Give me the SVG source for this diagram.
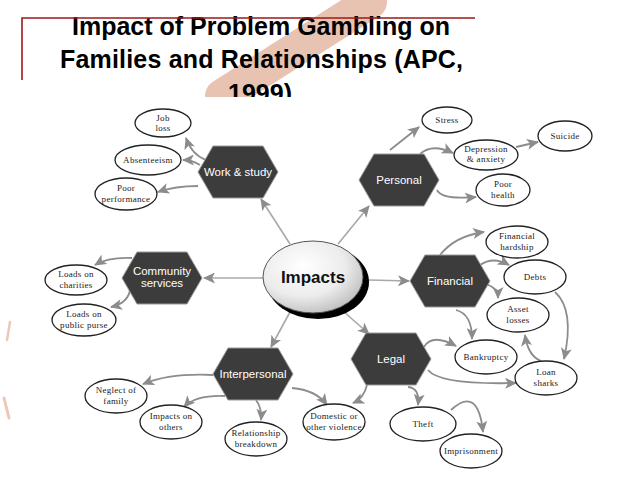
<svg xmlns="http://www.w3.org/2000/svg" width="638" height="478" viewBox="0 0 638 478">
<style>
.title{font-family:"Liberation Sans",Arial,sans-serif;font-weight:bold;font-size:25px;fill:#000;text-anchor:middle}
.hx{fill:#3c3c3c;stroke:#9a9a9a;stroke-width:1}
.ht{font-family:"Liberation Sans",Arial,sans-serif;font-size:11.5px;fill:#fff;text-anchor:middle}
.el{fill:#fff;stroke:#222;stroke-width:1.3}
.et{font-family:"Liberation Serif","Times New Roman",serif;font-size:9px;fill:#222;text-anchor:middle;letter-spacing:0.3px}
.c{fill:none;stroke:#8c8c8c;stroke-width:1.8;marker-end:url(#ah)}
.sp{fill:none;stroke:#a8a8a8;stroke-width:1.6;marker-end:url(#ah)}
</style>
<defs>
<marker id="ah" markerUnits="userSpaceOnUse" markerWidth="13" markerHeight="11" refX="11" refY="5.5" orient="auto">
<path d="M0,0 L12,5.5 L0,11 L3,5.5 Z" fill="#8c8c8c"/>
</marker>
<polygon id="hex" points="-40,0 -25,-26 25,-26 40,0 25,26 -25,26"/>
<radialGradient id="ig" cx="0.4" cy="0.35" r="0.7">
<stop offset="0" stop-color="#ffffff"/>
<stop offset="0.6" stop-color="#ececec"/>
<stop offset="1" stop-color="#bdbdbd"/>
</radialGradient>
</defs>
<rect width="638" height="478" fill="#fff"/>
<g id="background">
<path d="M370,2 L222,96" stroke="#e8c3b2" stroke-width="34" stroke-linecap="round"/>
<path d="M10,322 L7,340" stroke="#ecc8b8" stroke-width="2.5" stroke-linecap="round"/>
<path d="M4,398 L9,418" stroke="#ecc8b8" stroke-width="3" stroke-linecap="round"/>
</g>
<g id="title">
<text class="title" x="261" y="35" textLength="378" lengthAdjust="spacing">Impact of Problem Gambling on</text>
<text class="title" x="261.5" y="68" textLength="403" lengthAdjust="spacing">Families and Relationships (APC,</text>
<text class="title" x="260" y="102">1999)</text>
<path d="M22,80 L22,18 L475,18" fill="none" stroke="#a01818" stroke-width="1.6"/>
</g>
<rect x="40" y="97" width="570" height="381" fill="#fff"/>
<g id="connectors">
<path class="sp" d="M290,244 L261,199"/>
<path class="sp" d="M338,244 L369,206"/>
<path class="sp" d="M263,278 L204,278"/>
<path class="sp" d="M369,280 L409,281"/>
<path class="sp" d="M290,312 L271,347"/>
<path class="sp" d="M343,311 L369,334"/>
<path class="c" d="M206,160 Q192,155 186,138"/>
<path class="c" d="M200,165 Q192,160 183,160"/>
<path class="c" d="M198,186 Q175,186 158,192"/>
<path class="c" d="M390,150 L419,127"/>
<path class="c" d="M420,154 Q432,143 453,153"/>
<path class="c" d="M516,147 L538,142"/>
<path class="c" d="M437,190 Q442,200 476,197"/>
<path class="c" d="M132,258 Q108,257 95,265"/>
<path class="c" d="M130,290 Q128,303 111,307"/>
<path class="c" d="M440,255 Q455,236 484,232"/>
<path class="c" d="M480,265 Q493,256 509,265"/>
<path class="c" d="M486,284 Q498,288 498,298"/>
<path class="c" d="M456,310 Q472,314 472,339"/>
<path class="c" d="M555,292 Q575,310 564,359"/>
<path class="c" d="M541,361 Q528,356 525,335"/>
<path class="c" d="M424,347 Q432,333 456,346"/>
<path class="c" d="M428,370 Q440,385 516,383"/>
<path class="c" d="M367,385 Q364,398 353,403"/>
<path class="c" d="M408,387 Q420,388 418,405"/>
<path class="c" d="M451,410 Q478,385 483,432"/>
<path class="c" d="M213,375 Q170,373 143,384"/>
<path class="c" d="M225,396 Q195,395 184,407"/>
<path class="c" d="M256,400 Q262,408 261,420"/>
<path class="c" d="M292,388 Q316,390 327,405"/>
</g>
<g id="impacts">
<ellipse cx="318" cy="282" rx="51" ry="37" fill="#000"/>
<ellipse cx="313" cy="277" rx="50" ry="36" fill="url(#ig)" stroke="#555" stroke-width="1"/>
<text x="313" y="283" font-family="Liberation Sans,Arial,sans-serif" font-weight="bold" font-size="17" text-anchor="middle" fill="#111">Impacts</text>
</g>
<g id="work-study"><use href="#hex" class="hx" x="238" y="172"/><text class="ht" x="238" y="176">Work &amp; study</text></g>
<g id="personal"><use href="#hex" class="hx" x="399" y="180"/><text class="ht" x="399" y="184">Personal</text></g>
<g id="community"><use href="#hex" class="hx" x="162" y="278"/><text class="ht" x="162" y="275">Community</text><text class="ht" x="162" y="287">services</text></g>
<g id="financial"><use href="#hex" class="hx" x="450" y="281"/><text class="ht" x="450" y="285">Financial</text></g>
<g id="interpersonal"><use href="#hex" class="hx" x="253" y="374"/><text class="ht" x="253" y="378">Interpersonal</text></g>
<g id="legal"><use href="#hex" class="hx" x="391" y="359"/><text class="ht" x="391" y="363">Legal</text></g>
<g id="job-loss"><ellipse class="el" cx="163" cy="123" rx="28" ry="14"/><text class="et" x="163" y="121">Job</text><text class="et" x="163" y="131">loss</text></g>
<g id="absenteeism"><ellipse class="el" cx="148" cy="160" rx="33" ry="15"/><text class="et" x="148" y="163">Absenteeism</text></g>
<g id="poor-performance"><ellipse class="el" cx="126" cy="194" rx="31" ry="16"/><text class="et" x="126" y="191">Poor</text><text class="et" x="126" y="202">performance</text></g>
<g id="stress"><ellipse class="el" cx="447" cy="120" rx="25" ry="13"/><text class="et" x="447" y="123">Stress</text></g>
<g id="depression"><ellipse class="el" cx="486" cy="155" rx="32" ry="15"/><text class="et" x="486" y="152">Depression</text><text class="et" x="486" y="162">&amp; anxiety</text></g>
<g id="suicide"><ellipse class="el" cx="565" cy="136" rx="27" ry="15"/><text class="et" x="565" y="139">Suicide</text></g>
<g id="poor-health"><ellipse class="el" cx="503" cy="190" rx="27" ry="16"/><text class="et" x="503" y="187">Poor</text><text class="et" x="503" y="198">health</text></g>
<g id="loads-charities"><ellipse class="el" cx="76" cy="280" rx="31" ry="15"/><text class="et" x="76" y="277">Loads on</text><text class="et" x="76" y="288">charities</text></g>
<g id="loads-purse"><ellipse class="el" cx="84" cy="320" rx="32" ry="16"/><text class="et" x="84" y="317">Loads on</text><text class="et" x="84" y="328">public purse</text></g>
<g id="financial-hardship"><ellipse class="el" cx="517" cy="242" rx="31" ry="16"/><text class="et" x="517" y="239">Financial</text><text class="et" x="517" y="250">hardship</text></g>
<g id="debts"><ellipse class="el" cx="535" cy="277" rx="31" ry="17"/><text class="et" x="535" y="280">Debts</text></g>
<g id="asset-losses"><ellipse class="el" cx="518" cy="315" rx="31" ry="17"/><text class="et" x="518" y="312">Asset</text><text class="et" x="518" y="323">losses</text></g>
<g id="bankruptcy"><ellipse class="el" cx="486" cy="357" rx="31" ry="17"/><text class="et" x="486" y="360">Bankruptcy</text></g>
<g id="loan-sharks"><ellipse class="el" cx="546" cy="378" rx="31" ry="17"/><text class="et" x="546" y="375">Loan</text><text class="et" x="546" y="386">sharks</text></g>
<g id="neglect"><ellipse class="el" cx="116" cy="396" rx="31" ry="17"/><text class="et" x="116" y="393">Neglect of</text><text class="et" x="116" y="404">family</text></g>
<g id="impacts-others"><ellipse class="el" cx="171" cy="422" rx="31" ry="17"/><text class="et" x="171" y="419">Impacts on</text><text class="et" x="171" y="430">others</text></g>
<g id="relationship"><ellipse class="el" cx="256" cy="439" rx="31" ry="17"/><text class="et" x="256" y="436">Relationship</text><text class="et" x="256" y="447">breakdown</text></g>
<g id="domestic"><ellipse class="el" cx="334" cy="422" rx="31" ry="18"/><text class="et" x="334" y="419">Domestic or</text><text class="et" x="334" y="430">other violence</text></g>
<g id="theft"><ellipse class="el" cx="423" cy="424" rx="33" ry="17"/><text class="et" x="423" y="427">Theft</text></g>
<g id="imprisonment"><ellipse class="el" cx="471" cy="451" rx="31" ry="17"/><text class="et" x="471" y="454">Imprisonment</text></g>
</svg>
